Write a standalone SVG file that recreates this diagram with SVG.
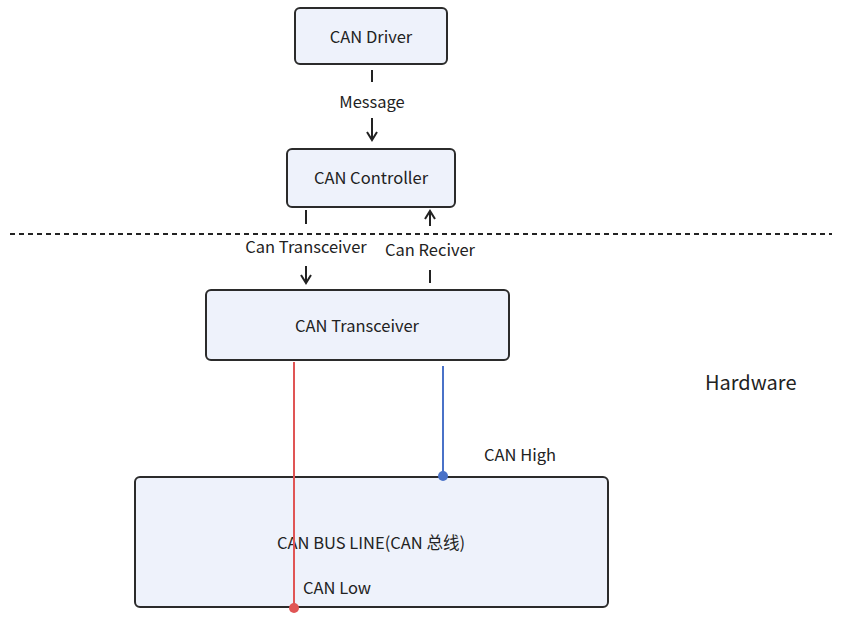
<svg xmlns="http://www.w3.org/2000/svg" width="848" height="628" viewBox="0 0 848 628">
<defs>
<style>
.box{fill:#eef2fb;stroke:#2b2b2b;stroke-width:2}
text{font-family:"Noto Sans CJK SC","Noto Sans",sans-serif;font-size:16.5px;fill:#222}
.c{text-anchor:middle}
.ln{stroke:#222;stroke-width:2;fill:none}
</style>
<marker id="a" viewBox="0 0 12 12" refX="10" refY="6" markerWidth="12" markerHeight="12" markerUnits="userSpaceOnUse" orient="auto"><path d="M2,1 L10,6 L2,11" fill="none" stroke="#222" stroke-width="2"/></marker>
</defs>
<rect width="848" height="628" fill="#fff"/>
<g id="driver"><rect class="box" x="295" y="8" width="152" height="56" rx="5"/><text class="c" x="371" y="43">CAN Driver</text></g>
<g id="controller"><rect class="box" x="287" y="149" width="168" height="58" rx="5"/><text class="c" x="371" y="184">CAN Controller</text></g>
<g id="transceiver"><rect class="box" x="206" y="290" width="303" height="70" rx="5"/><text class="c" x="357" y="332">CAN Transceiver</text></g>
<g id="bus"><rect class="box" x="135" y="477" width="473" height="130" rx="5"/><text class="c" x="371" y="549">CAN BUS LINE(CAN 总线)</text></g>
<g id="hardware"><text x="705" y="390" style="font-size:20px">Hardware</text></g>
<g id="connectors">
<path class="ln" d="M372,70 V82"/>
<path class="ln" d="M372,118 V140" marker-end="url(#a)"/>
<text class="c" x="372" y="108">Message</text>
<path class="ln" d="M306,210 V224"/>
<path class="ln" d="M306,266 V283" marker-end="url(#a)"/>
<text class="c" x="306" y="253">Can Transceiver</text>
<path class="ln" d="M430,283 V270"/>
<path class="ln" d="M430,226 V211" marker-end="url(#a)"/>
<text class="c" x="430" y="256">Can Reciver</text>
<path d="M10,234 H832" stroke="#222" stroke-width="2" stroke-dasharray="5,4"/>
<path d="M294,362 V608" stroke="#e05555" stroke-width="2"/>
<circle cx="294" cy="608" r="5" fill="#e05555"/>
<path d="M443,366 V476" stroke="#4a72c8" stroke-width="2"/>
<circle cx="443" cy="476" r="5" fill="#4a72c8"/>
<text x="484" y="461">CAN High</text>
<text x="303" y="594">CAN Low</text>
</g>
</svg>
